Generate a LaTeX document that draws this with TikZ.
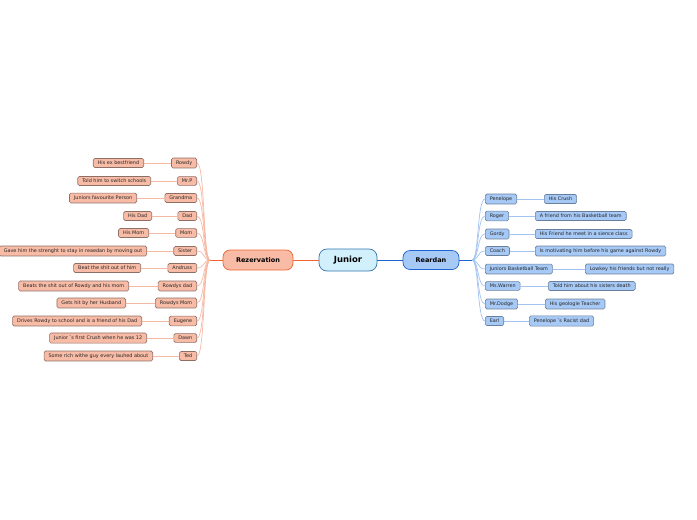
\documentclass[tikz,border=0pt]{standalone}
\usepackage{fontspec}
\setmainfont{DejaVu Sans}
\begin{document}
\begin{tikzpicture}[x=1pt,y=-1pt,
 lbox/.style={draw=lbord,fill=lfill,rounded corners=1.5pt,font=\fontsize{4.9}{5.5}\selectfont,inner xsep=4.5pt,inner ysep=2.6pt,line width=0.6pt,text=black!85},
 rbox/.style={draw=rbord,fill=rfill,rounded corners=1.5pt,font=\fontsize{4.9}{5.5}\selectfont,inner xsep=4.5pt,inner ysep=2.6pt,line width=0.6pt,text=black!85},
 lline/.style={draw=lthin,line width=0.7pt},
 rline/.style={draw=rthin,line width=0.7pt}]
\definecolor{lfill}{HTML}{F8BBA6}\definecolor{lbord}{HTML}{8E6F66}\definecolor{lthin}{HTML}{F6B9A4}\definecolor{lmain}{HTML}{F0652F}
\definecolor{rfill}{HTML}{A7C9F6}\definecolor{rbord}{HTML}{6A7F9C}\definecolor{rthin}{HTML}{A3C3F1}\definecolor{rmain}{HTML}{1F63CF}
\useasboundingbox (0,0) rectangle (697,520);
\node[draw=lmain,fill=lfill,rounded corners=7pt,minimum width=70pt,minimum height=20pt,font=\fontsize{6.5}{7}\selectfont\bfseries,line width=0.7pt] (rez) at (258,260) {Rezervation};
\node[draw=black!30!cyan!70!blue,fill=cyan!18,rounded corners=8pt,minimum width=58pt,minimum height=22pt,font=\fontsize{8.5}{9}\selectfont\bfseries,line width=0.7pt] (jun) at (348,260) {Junior};
\node[draw=rmain,fill=rfill,rounded corners=7pt,minimum width=56pt,minimum height=19pt,font=\fontsize{6.5}{7}\selectfont\bfseries,line width=0.7pt] (rea) at (431,260) {Reardan};
\draw[lmain,line width=1pt] (jun.west) -- (rez.east);
\draw[rmain,line width=1pt] (jun.east) -- (rea.west);
\coordinate (lh) at (210,260);
\coordinate (rh) at (472,260);
\draw[lmain,line width=1pt] (rez.west) -- (lh);
\draw[rmain,line width=1pt] (rea.east) -- (rh);
\foreach \i/\y/\c/\l/\lx in {1/163/Rowdy/His ex bestfriend/144,2/181/Mr.P/Told him to switch schools/151,3/198/Grandma/Juniors favourite Person/137,4/216/Dad/His Dad/152,5/233/Mom/His Mom/149,6/251/Sister/Gave him the strenght to stay in reaedan by moving out/147,7/268/Andruss/Beat the shit out of him/141,8/286/Rowdys dad/Beats the shit out of Rowdy and his mom/129,9/303/Rowdys Mom/Gets hit by her Husband/126,10/321/Eugene/Drives Rowdy to school and is a friend of his Dad/142,11/338/Dawn/Junior\,´s first Crush when he was 12/147,12/356/Ted/Some rich withe guy every lauhed about/153}{
 \node[lbox,anchor=east] (l\i) at (197,\y) {\c};
 \node[lbox,anchor=east] (ll\i) at (\lx,\y) {\l};
 \draw[lline] (lh) .. controls (203,260) and (205,\y) .. (l\i.east);
 \draw[lline] (l\i.west) -- (ll\i.east);
}
\foreach \i/\y/\c/\l/\lx in {1/199/Penelope/His Crush/544,2/216/Roger/A friend from his Basketball team/535,3/234/Gordy/His Friend he meet in a sience class/535,4/251/Coach/Is motivating him before his game against Rowdy/535,5/269/Juniors Basketball Team/Lowkey his friends but not really/585,6/286/Ms.Warren/Told him about his sisters death/548,7/304/Mr.Dodge/His geologie Teacher/545,8/321/Earl/Penelope\,´s Racist dad/529}{
 \node[rbox,anchor=west] (r\i) at (485,\y) {\c};
 \node[rbox,anchor=west] (rr\i) at (\lx,\y) {\l};
 \draw[rline] (rh) .. controls (479,260) and (477,\y) .. (r\i.west);
 \draw[rline] (r\i.east) -- (rr\i.west);
}
\end{tikzpicture}
\end{document}
